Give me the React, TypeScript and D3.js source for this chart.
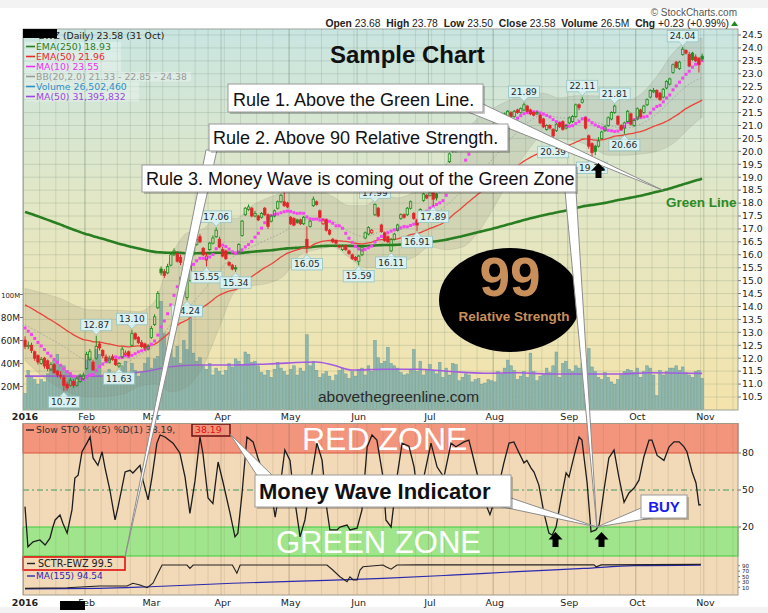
import React from "react";
import * as d3 from "d3";

// ---------------- data ----------------
const monthLabels = ["2016", "Feb", "Mar", "Apr", "May", "Jun", "Jul", "Aug", "Sep", "Oct", "Nov"];
const monthStarts = [0, 19, 39, 61, 82, 103, 125, 145, 168, 189, 210];
const weekStarts = [0, 5, 10, 14, 19, 24, 29, 33, 38, 43, 48, 53, 57, 62, 67, 72, 77, 82, 87, 92, 97, 102, 106, 111, 116, 121, 126, 130, 135, 140, 145, 150, 155, 160, 165, 170, 174, 179, 184, 189, 194, 199, 204, 209, 214, 219];

const opens = [
  12.70, 12.45, 12.50, 12.25, 12.10, 11.80, 12.00, 11.90, 11.55, 11.75, 11.50, 11.35, 11.25, 11.00, 10.95, 11.10, 10.95, 11.10, 11.20,
  11.60, 11.95, 11.85, 12.00, 12.55, 12.30, 12.05, 11.85, 12.05, 11.95, 11.70, 12.05, 12.15, 12.25, 12.50, 12.95, 12.80, 12.60, 12.55, 12.35,
  12.80, 13.30, 13.95, 15.45, 15.35, 15.30, 15.60, 16.00, 16.05, 15.90, 15.05, 14.35, 15.00, 16.00, 16.40, 16.70, 16.25, 15.80, 16.20, 16.45, 16.70, 16.60,
  16.20, 16.15, 15.70, 15.60, 15.50, 16.10, 16.75, 17.55, 17.75, 17.80, 17.50, 17.50, 17.45, 17.80, 17.55, 17.30, 17.50, 17.80, 18.05, 18.05, 18.00,
  17.45, 17.40, 17.35, 17.35, 17.20, 16.60, 17.10, 17.90, 18.05, 17.70, 17.20, 17.35, 16.95, 16.60, 16.55, 16.35, 16.20, 16.35, 16.15, 16.00, 15.90,
  15.75, 16.00, 16.65, 16.80, 16.85, 17.55, 17.80, 17.15, 16.85, 16.70, 16.15, 16.60, 16.95, 17.40, 17.55, 17.55, 17.80, 17.60, 17.35, 17.50, 18.10, 18.30,
  18.30, 18.40, 18.35, 18.60, 18.60, 19.00, 19.60, 20.00, 20.10, 20.35, 20.15, 20.40, 20.65, 20.55, 20.85, 20.70, 20.85, 20.60, 20.45, 20.70,
  21.00, 21.15, 21.40, 21.25, 21.35, 21.50, 21.35, 21.60, 21.50, 21.60, 21.75, 21.60, 21.50, 21.45, 21.40, 21.25, 20.85, 21.00, 20.85, 20.80, 21.10, 21.15, 20.90,
  21.10, 21.15, 21.35, 21.80, 21.90, 21.30, 20.60, 20.30, 20.20, 20.20, 20.50, 20.80, 21.00, 21.25, 21.50, 21.35, 21.00, 20.90, 21.15, 21.45, 21.00,
  21.25, 21.60, 21.50, 21.80, 22.10, 22.30, 22.35, 22.25, 22.10, 22.45, 22.60, 23.05, 23.45, 23.20, 23.75, 23.90, 23.75, 23.80, 23.65, 23.60, 23.68,
];
const highs = [
  12.85, 12.65, 12.60, 12.30, 12.15, 12.05, 12.05, 11.95, 11.85, 11.80, 11.55, 11.50, 11.35, 11.10, 11.25, 11.20, 11.30, 11.40, 11.45,
  12.25, 12.35, 11.95, 12.87, 12.65, 12.35, 12.15, 12.10, 12.15, 12.00, 11.85, 12.45, 12.30, 12.30, 13.10, 13.00, 12.85, 12.70, 12.60, 12.55,
  13.25, 13.70, 14.60, 15.55, 15.45, 15.65, 16.10, 16.25, 16.15, 16.00, 15.10, 15.00, 15.95, 16.50, 16.75, 16.80, 16.30, 16.05, 16.50, 16.75, 17.06, 16.70,
  16.30, 16.20, 15.75, 15.65, 15.60, 16.45, 17.35, 17.85, 17.95, 17.85, 17.70, 17.55, 17.65, 17.85, 17.60, 17.55, 17.75, 18.10, 18.35, 18.50, 18.05,
  17.50, 17.45, 17.40, 17.40, 17.50, 17.10, 17.35, 18.25, 18.10, 17.75, 17.40, 17.40, 17.00, 16.65, 16.60, 16.40, 16.40, 16.40, 16.20, 16.05, 15.95,
  16.00, 16.35, 16.90, 17.10, 17.00, 17.99, 17.85, 17.20, 16.90, 16.75, 16.65, 16.85, 17.20, 17.60, 17.60, 17.85, 18.10, 17.65, 17.40, 17.80, 18.40, 18.35,
  18.45, 18.45, 18.40, 18.65, 18.95, 19.50, 19.95, 20.30, 20.40, 20.45, 20.50, 20.70, 20.75, 20.85, 20.90, 20.95, 20.90, 20.65, 20.75, 21.05,
  21.25, 21.40, 21.45, 21.50, 21.60, 21.55, 21.60, 21.65, 21.70, 21.89, 21.80, 21.65, 21.55, 21.55, 21.45, 21.30, 21.05, 21.05, 20.90, 21.10, 21.15, 21.20, 21.05,
  21.35, 21.40, 21.85, 21.85, 22.11, 21.35, 20.65, 20.35, 20.25, 20.55, 20.80, 21.00, 21.35, 21.55, 21.81, 21.40, 21.05, 21.15, 21.60, 21.50, 21.25,
  21.70, 21.65, 21.80, 22.05, 22.40, 22.45, 22.40, 22.30, 22.45, 22.75, 22.85, 23.40, 23.50, 23.50, 24.04, 23.95, 23.85, 23.85, 23.75, 23.65, 23.78,
];
const lows = [
  12.35, 12.35, 12.20, 11.90, 11.75, 11.75, 11.60, 11.50, 11.50, 11.40, 11.25, 11.20, 10.72, 10.75, 10.90, 10.85, 10.90, 11.05, 11.15,
  11.55, 11.90, 11.50, 11.95, 12.30, 12.00, 11.85, 11.80, 11.90, 11.70, 11.63, 12.00, 12.10, 12.05, 12.45, 12.70, 12.55, 12.40, 12.30, 12.30,
  12.75, 13.25, 13.90, 15.20, 15.10, 15.25, 15.55, 15.95, 15.70, 15.60, 14.60, 14.24, 14.95, 15.95, 16.35, 16.45, 15.95, 15.55, 16.15, 16.40, 16.65, 16.25,
  15.90, 15.80, 15.55, 15.40, 15.34, 16.05, 16.70, 17.50, 17.70, 17.45, 17.45, 17.30, 17.40, 17.50, 17.00, 17.25, 17.45, 17.75, 18.00, 17.85, 17.80,
  17.15, 17.10, 17.20, 17.15, 17.15, 16.05, 17.05, 17.85, 17.90, 17.40, 17.15, 16.90, 16.75, 16.45, 16.40, 16.25, 16.15, 16.15, 16.00, 15.80, 15.75,
  15.59, 15.95, 16.60, 16.75, 16.80, 17.50, 17.45, 16.85, 16.50, 16.45, 16.11, 16.55, 16.90, 17.35, 17.40, 17.50, 17.75, 17.35, 16.91, 17.45, 18.05, 18.15,
  18.25, 17.89, 18.10, 18.40, 18.55, 18.95, 19.55, 19.95, 19.95, 20.05, 20.10, 20.35, 20.45, 20.50, 20.65, 20.65, 20.55, 20.40, 20.40, 20.65,
  20.95, 21.10, 21.15, 21.20, 21.30, 21.30, 21.30, 21.45, 21.45, 21.55, 21.50, 21.40, 21.35, 21.40, 21.05, 20.90, 20.80, 20.85, 20.39, 20.75, 20.90, 20.80, 20.85,
  21.05, 21.10, 21.30, 21.60, 21.85, 20.85, 20.10, 19.78, 19.85, 20.15, 20.45, 20.75, 20.95, 21.20, 21.45, 21.00, 20.80, 20.66, 21.10, 21.00, 20.95,
  21.20, 21.30, 21.45, 21.75, 22.05, 22.25, 22.05, 21.95, 22.05, 22.40, 22.55, 23.00, 23.20, 23.15, 23.70, 23.75, 23.25, 23.50, 23.45, 23.05, 23.50,
];
const closes = [
  12.45, 12.50, 12.30, 12.00, 11.85, 11.95, 11.70, 11.60, 11.75, 11.45, 11.35, 11.30, 10.95, 10.85, 11.15, 10.95, 11.20, 11.30, 11.35,
  12.15, 12.25, 11.55, 12.45, 12.40, 12.10, 11.90, 12.00, 11.95, 11.75, 11.80, 12.35, 12.20, 12.10, 12.95, 12.75, 12.60, 12.45, 12.40, 12.45,
  13.15, 13.60, 14.50, 15.30, 15.20, 15.55, 16.00, 16.15, 15.75, 15.70, 14.70, 14.95, 15.90, 16.40, 16.60, 16.50, 16.00, 15.95, 16.45, 16.65, 16.95, 16.30,
  15.95, 15.85, 15.60, 15.45, 15.45, 16.40, 17.30, 17.80, 17.85, 17.50, 17.60, 17.35, 17.60, 17.55, 17.10, 17.50, 17.70, 18.05, 18.30, 17.90, 17.85,
  17.20, 17.15, 17.25, 17.20, 17.45, 16.30, 17.30, 18.15, 17.95, 17.45, 17.35, 16.95, 16.80, 16.50, 16.45, 16.30, 16.35, 16.20, 16.05, 15.85, 15.80,
  15.95, 16.30, 16.85, 17.05, 16.95, 17.95, 17.50, 16.90, 16.55, 16.50, 16.60, 16.80, 17.15, 17.55, 17.45, 17.80, 18.05, 17.40, 17.15, 17.75, 18.35, 18.20,
  18.40, 18.15, 18.20, 18.45, 18.90, 19.45, 19.90, 20.25, 20.30, 20.10, 20.45, 20.60, 20.50, 20.80, 20.70, 20.90, 20.60, 20.50, 20.70, 21.00,
  21.20, 21.35, 21.20, 21.45, 21.55, 21.35, 21.55, 21.50, 21.65, 21.80, 21.55, 21.45, 21.40, 21.50, 21.10, 20.95, 21.00, 20.90, 20.60, 21.05, 20.95, 20.85, 21.00,
  21.30, 21.35, 21.80, 21.70, 22.00, 20.90, 20.20, 19.95, 20.00, 20.40, 20.75, 20.95, 21.30, 21.50, 21.75, 21.05, 20.85, 21.10, 21.55, 21.05, 21.20,
  21.65, 21.35, 21.75, 22.00, 22.35, 22.35, 22.10, 22.00, 22.40, 22.70, 22.80, 23.35, 23.25, 23.45, 23.95, 23.80, 23.30, 23.55, 23.50, 23.35, 23.58,
];
// last closes of Dec 2015 (estimated) to seed the 10-day average
const priorCloses = [13.75, 13.6, 13.5, 13.4, 13.3, 13.1, 13.0, 12.85, 12.75];
const ema250Start = 17.66;
const ema50Start = 14.06;

// volume in millions
const volumes = [
  14, 34, 28, 26, 22, 26, 24, 31, 36, 43, 48, 38, 38, 34, 31, 28, 24, 30, 27,
  43, 45, 38, 52, 48, 30, 26, 35, 28, 31, 25, 38, 42, 30, 40, 34, 29, 32, 40, 45,
  36, 44, 46, 94, 66, 44, 52, 45, 55, 40, 60, 52, 85, 49, 42, 45, 38, 35, 40, 30, 36, 33,
  30, 34, 40, 37, 44, 42, 38, 50, 48, 41, 42, 38, 32, 30, 34, 28, 35, 41, 36, 33, 30,
  35, 38, 30, 36, 33, 65, 38, 42, 34, 28, 31, 33, 29, 25, 30, 34, 36, 31, 27, 33, 29,
  35, 36, 30, 38, 33, 60, 45, 40, 42, 54, 40, 38, 36, 32, 30, 31, 34, 52, 33, 42, 30, 35,
  39, 34, 31, 41, 28, 36, 30, 40, 39, 25, 28, 31, 30, 24, 26, 27, 22, 23, 26, 25,
  24, 33, 31, 36, 43, 38, 34, 26, 29, 33, 28, 49, 33, 25, 29, 30, 36, 32, 38, 50, 28, 40, 42,
  35, 33, 38, 36, 40, 37, 53, 37, 33, 28, 26, 32, 28, 24, 22, 26, 30, 33, 35, 34, 32,
  36, 28, 33, 38, 36, 30, 12, 34, 30, 33, 36, 36, 38, 34, 37, 32, 30, 28, 33, 34, 27,
];
const volMaDays = [0, 23, 33, 38.6, 44, 54, 64, 75, 90, 95, 101, 111, 121, 131.5, 141.7, 152, 162, 172.5, 183, 193, 209];
const volMaVals = [29, 29, 31.7, 33.7, 37, 38.7, 38.7, 39.6, 41.3, 38.7, 34.3, 35, 35, 33, 31.5, 32, 30.9, 30.9, 30.9, 32, 31.4];

// Bollinger bands (20,2)
const bbDays = [0, 10, 20, 30, 35, 40, 45, 50, 55, 60, 65, 70, 75, 80, 85, 90, 95, 100, 105, 110, 115, 120, 125, 130, 135, 140, 145, 150, 155, 160, 165, 170, 175, 180, 185, 190, 195, 200, 205, 209];
const bbUpper = [14.7, 14.35, 13.87, 13.85, 13.8, 14.2, 15.9, 16.84, 17.0, 17.6, 17.4, 17.9, 18.2, 18.4, 18.45, 18.5, 18.25, 17.9, 17.9, 18.3, 18.2, 18.4, 18.6, 19.5, 20.6, 21.3, 21.7, 22.0, 22.2, 22.25, 22.06, 22.15, 22.15, 22.1, 21.95, 22.2, 22.9, 23.8, 24.3, 24.38];
const bbMid = [13.3, 12.6, 11.9, 11.8, 12.1, 12.5, 13.3, 13.9, 14.6, 15.4, 16.0, 16.3, 16.6, 16.9, 17.3, 17.4, 17.3, 16.9, 16.7, 16.9, 16.95, 17.2, 17.5, 17.9, 18.5, 19.1, 19.8, 20.5, 21.1, 21.4, 21.3, 21.25, 21.15, 21.0, 20.9, 21.05, 21.45, 22.05, 22.6, 22.85];
const bbLower = [11.9, 10.9, 10.5, 10.6, 10.9, 11.0, 10.7, 10.9, 11.7, 13.2, 14.6, 14.8, 14.9, 15.2, 16.0, 16.2, 16.3, 15.9, 15.5, 15.5, 15.7, 15.9, 16.3, 16.2, 16.3, 16.9, 17.9, 19.0, 20.0, 20.6, 20.5, 20.4, 20.17, 19.85, 19.85, 19.9, 20.0, 20.3, 20.9, 21.33];

// Slow STO %K(5)
const stoDays = [0, 0.9, 2.5, 4.6, 6.2, 7.7, 8.6, 9.3, 10.8, 11.7, 13, 14.5, 15.4, 16.4, 17.6, 19.1, 20.1, 21, 22.5, 23.8, 24.7, 26.2, 27.8, 28.7, 30.9, 32.4, 33.3, 35.5, 36.4, 38, 39.2, 40.7, 41.7, 43.2, 45.7, 47.8, 49.4, 50.9, 52.5, 54, 54.9, 56.5, 58, 59.6, 61.1, 63.3, 64.8, 65.7, 67, 68.5, 70.4, 71.9, 73.5, 75, 75.6, 77.2, 78.7, 80.2, 81.8, 82.7, 84.9, 86.4, 88.6, 90.1, 91.7, 93.2, 94.1, 96.3, 97.2, 99.4, 100.3, 102.5, 104, 105.6, 107.1, 108.6, 110.5, 111.4, 113, 114.8, 116.4, 118.5, 120.1, 121.6, 123.1, 125.3, 127.2, 129.3, 131.5, 133, 135.5, 137, 138, 139.5, 141.7, 143.5, 145.7, 147.8, 149.4, 150.9, 152.5, 154, 154.9, 156.2, 157.1, 158.6, 160.2, 161.7, 162.7, 163.9, 165.4, 167, 167.9, 169.4, 171, 171.9, 173.5, 174.7, 176.2, 177.2, 178.7, 180.2, 181.8, 183.3, 184.9, 186.4, 188, 189.5, 191, 192.6, 193.5, 195.1, 197.2, 198.8, 200.3, 201.9, 203.4, 204.3, 205.9, 207.1, 208, 208.6];
const stoVals = [36.5, 4, 8, 9.5, 5.4, 11, 20, 25.7, 29.7, 23, 15, 33.8, 59.7, 62, 81, 88, 93, 76, 70, 81, 68, 50, 25.7, 36, 64.6, 66, 63.8, 70, 58, 42, 60.5, 88, 94.6, 93, 88, 80, 60.5, 31, 58, 93, 80, 43.5, 39, 72.7, 56.5, 31, 12, 15, 47.6, 93, 89, 76, 63.8, 64.6, 56.5, 28, 51.6, 82.4, 74, 52, 12, 25.7, 63.8, 88, 74, 33.8, 17.6, 17.6, 20, 21.6, 17.6, 19, 33.8, 84.9, 94.6, 90.5, 60.5, 25.7, 20, 60.5, 88, 85.5, 68.6, 36, 60.5, 88, 68.6, 60.5, 88, 85, 89, 90.5, 80, 63.8, 42, 30, 47.6, 72, 88, 89, 80, 72, 74, 67.8, 64.6, 54, 31, 15, 13.5, 20, 42, 63.8, 60.5, 76.8, 93, 90.5, 55.7, 16, 17.6, 21.6, 50, 76, 82.4, 60.5, 40, 47.6, 51.6, 58, 76.8, 90.5, 90.5, 78, 74, 85, 89, 89, 85, 81, 64.6, 55.7, 37.8, 38.19];

// SCTR and its MA(155)
const sctrDays = [0, 13, 23, 31.5, 33.3, 35.5, 37.7, 39.5, 40.7, 42.3, 50, 50.9, 51.9, 64, 65.4, 66.4, 93.2, 95, 97.2, 99.4, 100.3, 101.3, 102.5, 103.4, 104.3, 110.5, 111.4, 113, 114.8, 121, 175.6, 176.3, 177.8, 208.6];
const sctrVals = [6, 8.5, 15, 15, 25, 18.5, 8.5, 25, 55, 92.5, 92.5, 80, 92.5, 92.5, 62, 92.5, 92.5, 74, 49, 31, 49, 37, 37, 74, 86, 92.5, 86, 77, 92.5, 93, 93, 86, 93, 95];
const sctrMaDays = [0, 23, 38.6, 64, 84.9, 110.5, 131.5, 151.9, 172.5, 188, 208.6];
const sctrMaVals = [4, 6, 12, 25, 33, 43, 55, 68, 80, 90, 92.5];

// labelled highs and lows
const tagDays = [12, 22, 33, 29, 50, 56, 65, 59, 87, 103, 113, 121, 126, 108, 154, 172, 182, 163, 175, 185, 203];
const tagValues = [10.72, 12.87, 13.10, 11.63, 14.24, 15.55, 15.34, 17.06, 16.05, 15.59, 16.11, 16.91, 17.89, 17.99, 21.89, 22.11, 21.81, 20.39, 19.78, 20.66, 24.04];
const tagKinds = ["low", "high", "high", "low", "low", "low", "low", "high", "low", "low", "low", "low", "low", "high", "high", "high", "high", "low", "low", "low", "high"];

const priceTicks = [10.5, 11, 11.5, 12, 12.5, 13, 13.5, 14, 14.5, 15, 15.5, 16, 16.5, 17, 17.5, 18, 18.5, 19, 19.5, 20, 20.5, 21, 21.5, 22, 22.5, 23, 23.5, 24, 24.5];
const volTicks = [20, 40, 60, 80, 100];
const stoTicks = [20, 50, 80];
const sctrTicks = [10, 30, 50, 70, 90];

// ---------------- layout ----------------
const PL = 23, PR = 738, PT = 29, PB = 410;
const ST = 423.5, SB = 556, CB = 595;
const SANS = "'Liberation Sans', Arial, sans-serif";
const SMALL = "'DejaVu Sans', Verdana, sans-serif";

function Box({ x, y, w, h }: { x: number; y: number; w: number; h: number }) {
  return (
    <g>
      <rect x={x + 2} y={y + 2} width={w} height={h} fill="#000" opacity={0.22} />
      <rect x={x} y={y} width={w} height={h} fill="#fff" stroke="#9a9a9a" strokeWidth={1} />
    </g>
  );
}

function Wedge({ pts }: { pts: number[][] }) {
  return <polygon points={pts.map((p) => p.join(",")).join(" ")} fill="#fff" stroke="#8d8d8d" strokeWidth={1} />;
}

function UpArrow({ cx, y }: { cx: number; y: number }) {
  const d = `M${cx},${y} L${cx + 7},${y + 7.5} L${cx + 3},${y + 7.5} L${cx + 3},${y + 15} L${cx - 3},${y + 15} L${cx - 3},${y + 7.5} L${cx - 7},${y + 7.5} Z`;
  return <path d={d} fill="#000" />;
}

export default function App() {
  const x = d3.scaleLinear().domain([0, 210]).range([25, 705.4]);
  const yP = d3.scaleLinear().domain([10.5, 24.5]).range([397, 35]);
  const yV = d3.scaleLinear().domain([0, 100]).range([409.5, 294.5]);
  const yS = d3.scaleLinear().domain([20, 80]).range([527, 453]);
  const yC = d3.scaleLinear().domain([0, 100]).range([590, 563]);
  const idx = d3.range(closes.length);

  const ext = priorCloses.concat(closes);
  const ma10 = idx.map((i) => d3.mean(ext.slice(i, i + 10)) as number);
  const ema = (start: number, n: number) => {
    const k = 2 / (n + 1);
    let e = start;
    return closes.map((c, i) => {
      if (i > 0) e = e + k * (c - e);
      return e;
    });
  };
  const ema50 = ema(ema50Start, 50);
  const ema250 = ema(ema250Start, 250);

  const priceLine = d3.line<number>().x((_, i) => x(i)).y((d) => yP(d)).curve(d3.curveMonotoneX);
  const bbArea = d3
    .area<number>()
    .x((d) => x(d))
    .y0((_, i) => yP(bbLower[i]))
    .y1((_, i) => yP(bbUpper[i]))
    .curve(d3.curveMonotoneX);
  const bbMidLine = d3.line<number>().x((d) => x(d)).y((_, i) => yP(bbMid[i])).curve(d3.curveMonotoneX);
  const volMaLine = d3.line<number>().x((d) => x(d)).y((_, i) => yV(volMaVals[i])).curve(d3.curveMonotoneX);
  const stoLine = d3.line<number>().x((d) => x(d)).y((_, i) => yS(stoVals[i]));
  const sctrLine = d3.line<number>().x((d) => x(d)).y((_, i) => yC(sctrVals[i]));
  const sctrMaLine = d3.line<number>().x((d) => x(d)).y((_, i) => yC(sctrMaVals[i])).curve(d3.curveMonotoneX);

  const green = "#1d8c1d";
  const red = "#e0262a";

  // annotation tips, placed through the scales
  const tipGreen = [x(196.8), yP(18.5)];
  const tipBuy = [x(176.5), yS(20)];
  const tipSctr = [125, 557];
  const tipSto = [230, 434];

  return (
    <div style={{ position: "fixed", left: 0, top: 0 }}>
      <svg width={768} height={613} viewBox="0 0 768 613" style={{ display: "block" }}>
        <defs>
          <linearGradient id="pbg" x1="0" y1="0" x2="0" y2="1">
            <stop offset="0%" stopColor="#c9e5e1" />
            <stop offset="45%" stopColor="#e2e7c6" />
            <stop offset="100%" stopColor="#f4e3ab" />
          </linearGradient>
          <clipPath id="pclip">
            <rect x={PL} y={PT} width={PR - PL} height={PB - PT} />
          </clipPath>
        </defs>
        <rect x={0} y={0} width={768} height={613} fill="#fff" />
        <rect x={0} y={0} width={768} height={8} fill="#f3f3f3" />
        <rect x={0} y={607} width={768} height={6} fill="#f3f3f3" />

        {/* ---------------- price panel ---------------- */}
        <rect x={PL} y={PT} width={PR - PL} height={PB - PT} fill="url(#pbg)" />
        <g clipPath="url(#pclip)">
          {priceTicks.map((t) => (
            <line key={t} x1={PL} x2={PR} y1={yP(t)} y2={yP(t)} stroke="#5f7f66" strokeOpacity={0.2} strokeWidth={1} />
          ))}
          {weekStarts.map((d) => (
            <line key={d} x1={x(d) - 1.6} x2={x(d) - 1.6} y1={PT} y2={PB} stroke="#5f7f66" strokeOpacity={0.18} />
          ))}
          {monthStarts.map((d) => (
            <line key={d} x1={x(d) - 1.6} x2={x(d) - 1.6} y1={PT} y2={PB} stroke="#5f7f66" strokeOpacity={0.32} />
          ))}
          {/* volume */}
          {volumes.map((v, i) => (
            <rect key={i} x={x(i) - 1.35} y={yV(v)} width={2.7} height={yV(0) - yV(v)} fill="#8fb7ae" stroke="#6f9c93" strokeWidth={0.5} />
          ))}
          <path d={volMaLine(volMaDays) as string} fill="none" stroke="#a35ce0" strokeWidth={1.6} />
          {/* bollinger */}
          <path d={bbArea(bbDays) as string} fill="#7a7a6a" fillOpacity={0.17} stroke="#8a8a7a" strokeOpacity={0.35} strokeWidth={0.6} />
          <path d={bbMidLine(bbDays) as string} fill="none" stroke="#999" strokeWidth={0.8} strokeDasharray="1.5,2" />
          {/* EMAs */}
          <path d={priceLine(ema250) as string} fill="none" stroke="#2a7e22" strokeWidth={2.6} />
          <path d={priceLine(ema50) as string} fill="none" stroke="#e8453c" strokeWidth={1.3} />
          {/* MA10 */}
          {ma10.map((m, i) => (
            <rect key={i} x={x(i) - 1.5} y={yP(m) - 1.5} width={3} height={3} fill="#f545f0" />
          ))}
          {/* candles */}
          {idx.map((i) => {
            const o = opens[i], c = closes[i], h = highs[i], l = lows[i];
            const prev = i > 0 ? closes[i - 1] : o;
            const col = c >= prev ? green : red;
            const top = yP(Math.max(o, c));
            const bh = Math.max(yP(Math.min(o, c)) - top, 1);
            const cx = x(i);
            const filled = c < o;
            return (
              <g key={i}>
                <line x1={cx} x2={cx} y1={yP(h)} y2={top} stroke={col} strokeWidth={1} />
                <line x1={cx} x2={cx} y1={top + bh} y2={yP(l)} stroke={col} strokeWidth={1} />
                <rect x={cx - 1.2} y={top} width={2.4} height={bh} fill={filled ? col : "none"} stroke={col} strokeWidth={0.8} />
              </g>
            );
          })}
          {/* tags */}
          {tagDays.map((d, k) => {
            const cx = x(d);
            const v = tagValues[k];
            const hi = tagKinds[k] === "high";
            const bw = 31, bhh = 11.5;
            const by = hi ? yP(v) - 5 - bhh : yP(v) + 5;
            const tri = hi
              ? `M${cx - 4},${by + bhh} L${cx + 4},${by + bhh} L${cx},${by + bhh + 4} Z`
              : `M${cx - 4},${by} L${cx + 4},${by} L${cx},${by - 4} Z`;
            return (
              <g key={k}>
                <rect x={cx - bw / 2} y={by} width={bw} height={bhh} fill="#dbf1f0" stroke="#93c3c3" strokeWidth={0.8} />
                <path d={tri} fill="#dbf1f0" stroke="#93c3c3" strokeWidth={0.8} />
                <rect x={cx - 3.5} y={hi ? by + bhh - 1 : by} width={7} height={1.5} fill="#dbf1f0" />
                <text x={cx} y={by + 9} fontSize={9} fontFamily={SMALL} textAnchor="middle" fill="#1a2a30">
                  {v.toFixed(2)}
                </text>
              </g>
            );
          })}
        </g>
        <rect x={PL} y={PT} width={PR - PL} height={PB - PT} fill="none" stroke="#9aa39a" strokeWidth={1} />

        {/* price axis */}
        {priceTicks.map((t) => (
          <g key={t}>
            <line x1={PR} x2={PR + 3} y1={yP(t)} y2={yP(t)} stroke="#777" />
            <text x={PR + 4} y={yP(t) + 3.3} fontSize={9.3} fontFamily={SMALL} fill="#222">
              {t.toFixed(1)}
            </text>
          </g>
        ))}
        {volTicks.map((t) => (
          <g key={t}>
            <line x1={PL - 3} x2={PL} y1={yV(t)} y2={yV(t)} stroke="#777" />
            <text x={PL - 3} y={yV(t) + 3} fontSize={t >= 100 ? 6.8 : 9} fontFamily={SMALL} textAnchor="end" fill="#222">
              {t}M
            </text>
          </g>
        ))}

        {/* top legend */}
        <text x={38.5} y={38.5} fontSize={9.3} fontFamily={SMALL} fill="#222">
          EWZ (Daily) 23.58 (31 Oct)
        </text>
        <rect x={23} y={29} width={34} height={9} fill="#000" />
        {[
          ["EMA(250) 18.93", "#2a7e22"],
          ["EMA(50) 21.96", "#e8282a"],
          ["MA(10) 23.55", "#f030f0"],
          ["BB(20,2.0) 21.33 - 22.85 - 24.38", "#9a9a9a"],
          ["Volume 26,502,460", "#2f8fc8"],
          ["MA(50) 31,395,832", "#9a48e0"],
        ].map(([t, c], k) => (
          <g key={k}>
            <rect x={25} y={42 + k * 10} width={96 + (k === 3 ? 70 : k >= 4 ? 18 : 0)} height={9.5} fill="#fff" opacity={0.3} />
            <line x1={26} x2={35} y1={46.5 + k * 10} y2={46.5 + k * 10} stroke={c} strokeWidth={1.6} />
            <text x={36} y={49.8 + k * 10} fontSize={9.3} fontFamily={SMALL} fill={c}>
              {t}
            </text>
          </g>
        ))}

        {/* header */}
        <text x={729} y={27} fontSize={10.3} fontFamily={SANS} fill="#222" textAnchor="end">
          <tspan fontWeight="bold">Open</tspan>
          <tspan> 23.68 </tspan>
          <tspan fontWeight="bold" dx={3}>High</tspan>
          <tspan> 23.78 </tspan>
          <tspan fontWeight="bold" dx={3}>Low</tspan>
          <tspan> 23.50 </tspan>
          <tspan fontWeight="bold" dx={3}>Close</tspan>
          <tspan> 23.58 </tspan>
          <tspan fontWeight="bold" dx={3}>Volume</tspan>
          <tspan> 26.5M </tspan>
          <tspan fontWeight="bold" dx={3}>Chg</tspan>
          <tspan> +0.23 (+0.99%)</tspan>
        </text>
        <path d="M731,26 L738,26 L734.5,21 Z" fill="#1d8c1d" />
        <text x={737} y={16} fontSize={10} fontFamily={SANS} fill="#555" textAnchor="end">
          © StockCharts.com
        </text>

        {/* month labels */}
        {monthLabels.map((m, k) => (
          <g key={k}>
            <text x={x(monthStarts[k])} y={420} fontSize={9.5} fontFamily={SMALL} textAnchor="middle" fill="#222" fontWeight={k === 0 ? "bold" : "normal"}>
              {m}
            </text>
            <text x={x(monthStarts[k])} y={606} fontSize={9.5} fontFamily={SMALL} textAnchor="middle" fill="#222" fontWeight={k === 0 ? "bold" : "normal"}>
              {m}
            </text>
          </g>
        ))}
        <rect x={60} y={601} width={25} height={9} fill="#000" />

        {/* ---------------- STO panel ---------------- */}
        <rect x={PL} y={ST} width={PR - PL} height={CB - ST} fill="#f2d9b7" />
        <rect x={PL} y={ST} width={PR - PL} height={yS(80) - ST} fill="#f2957c" stroke="#d9573e" strokeWidth={1} />
        <rect x={PL} y={yS(20)} width={PR - PL} height={SB - yS(20)} fill="#a0e58b" stroke="#3ccd3c" strokeWidth={1} />
        {weekStarts.map((d) => (
          <line key={d} x1={x(d) - 1.6} x2={x(d) - 1.6} y1={ST} y2={CB} stroke="#7a6a50" strokeOpacity={0.15} />
        ))}
        {monthStarts.map((d) => (
          <line key={d} x1={x(d) - 1.6} x2={x(d) - 1.6} y1={ST} y2={CB} stroke="#7a6a50" strokeOpacity={0.28} />
        ))}
        <line x1={PL} x2={PR} y1={yS(50)} y2={yS(50)} stroke="#3f9a63" strokeWidth={1} strokeDasharray="6,3,2,3" />
        <text x={302} y={450} fontSize={32} fontFamily={SANS} fill="#fff">
          RED ZONE
        </text>
        <text x={276} y={553} fontSize={31} fontFamily={SANS} fill="#fff">
          GREEN ZONE
        </text>
        <path d={stoLine(stoDays) as string} fill="none" stroke="#1c1c1c" strokeWidth={1.3} />
        <line x1={26} x2={34} y1={430} y2={430} stroke="#222" strokeWidth={1.4} />
        <text x={36} y={433.3} fontSize={9.3} fontFamily={SMALL} fill="#333">
          Slow STO %K(5) %D(1) 38.19,
        </text>
        <rect x={192} y={424} width={38} height={12} fill="none" stroke="#6a1010" strokeWidth={1.5} />
        <text x={195} y={433.3} fontSize={9.3} fontFamily={SMALL} fill="#e01010">
          38.19
        </text>
        {stoTicks.map((t) => (
          <g key={t}>
            <line x1={PR} x2={PR + 3} y1={yS(t)} y2={yS(t)} stroke="#777" />
            <text x={PR + 4} y={yS(t) + 3.3} fontSize={9.3} fontFamily={SMALL} fill="#222">
              {t}
            </text>
          </g>
        ))}

        {/* ---------------- SCTR panel ---------------- */}
        <path d={sctrMaLine(sctrMaDays) as string} fill="none" stroke="#2a2ab0" strokeWidth={1.2} />
        <path d={sctrLine(sctrDays) as string} fill="none" stroke="#222" strokeWidth={1.1} />
        <rect x={PL} y={557} width={102} height={13} fill="none" stroke="#e01010" strokeWidth={1.6} />
        <line x1={27} x2={35} y1={563.5} y2={563.5} stroke="#222" strokeWidth={1.4} />
        <text x={38} y={567} fontSize={9.6} fontFamily={SMALL} fill="#222">
          SCTR-EWZ 99.5
        </text>
        <line x1={27} x2={35} y1={576} y2={576} stroke="#2a2ab0" strokeWidth={1.4} />
        <text x={36} y={579} fontSize={9} fontFamily={SMALL} fill="#2a2ab0">
          MA(155) 94.54
        </text>
        {sctrTicks.map((t) => (
          <g key={t}>
            <line x1={PR} x2={PR + 2} y1={yC(t)} y2={yC(t)} stroke="#777" />
            <text x={PR + 4} y={yC(t) + 2.2} fontSize={5.6} fontFamily={SMALL} fill="#222">
              {t}
            </text>
          </g>
        ))}
        <rect x={PL} y={ST} width={PR - PL} height={CB - ST} fill="none" stroke="#a09a8a" strokeWidth={1} />

        {/* ---------------- annotations ---------------- */}
        <text x={318} y={402} fontSize={15.5} fontFamily={SANS} fill="#2a2a2a">
          abovethegreenline.com
        </text>
        <ellipse cx={510} cy={300} rx={71} ry={52} fill="#000" />
        <text x={510} y={296} fontSize={55} fontWeight="bold" fontFamily={SANS} textAnchor="middle" fill="#c98f5a">
          99
        </text>
        <text x={514} y={321} fontSize={13.5} fontWeight="bold" fontFamily={SANS} textAnchor="middle" fill="#c98f5a">
          Relative Strength
        </text>
        <text x={666} y={207} fontSize={13.5} fontWeight="bold" fontFamily={SANS} fill="#2a8a26">
          Green Line
        </text>
        <text x={330} y={63} fontSize={24} fontWeight="bold" fontFamily={SANS} fill="#111">
          Sample Chart
        </text>

        <Wedge pts={[[468, 112], [483, 104], tipGreen]} />
        <Wedge pts={[[206, 150], [217, 150], tipSctr]} />
        <Wedge pts={[[565, 191], [576, 191], tipBuy]} />
        <Wedge pts={[[258, 477], [274, 477], tipSto]} />
        <Wedge pts={[[498, 506], [511, 498], tipBuy]} />
        <Wedge pts={[[641, 508], [652, 518], tipBuy]} />

        <Box x={228} y={84} w={255} h={28} />
        <text x={233} y={105.5} fontSize={18} fontFamily={SANS} fill="#111">
          Rule 1. Above the Green Line.
        </text>
        <Box x={209} y={124} w={299} h={27} />
        <text x={213} y={144} fontSize={18} fontFamily={SANS} fill="#111">
          Rule 2. Above 90 Relative Strength.
        </text>
        <Box x={142} y={165} w={434} h={27} />
        <text x={146} y={185} fontSize={18} fontFamily={SANS} fill="#111">
          Rule 3. Money Wave is coming out of the Green Zone
        </text>
        <Box x={255} y={475} w={256} h={32} />
        <text x={259} y={499} fontSize={22} fontWeight="bold" fontFamily={SANS} fill="#111">
          Money Wave Indicator
        </text>
        <Box x={641} y={495} w={46} h={23} />
        <text x={664} y={512} fontSize={15} fontWeight="bold" fontFamily={SANS} textAnchor="middle" fill="#1a1af0">
          BUY
        </text>

        <UpArrow cx={555.5} y={532} />
        <UpArrow cx={601.5} y={532} />
        <UpArrow cx={598.5} y={163} />
      </svg>
    </div>
  );
}
